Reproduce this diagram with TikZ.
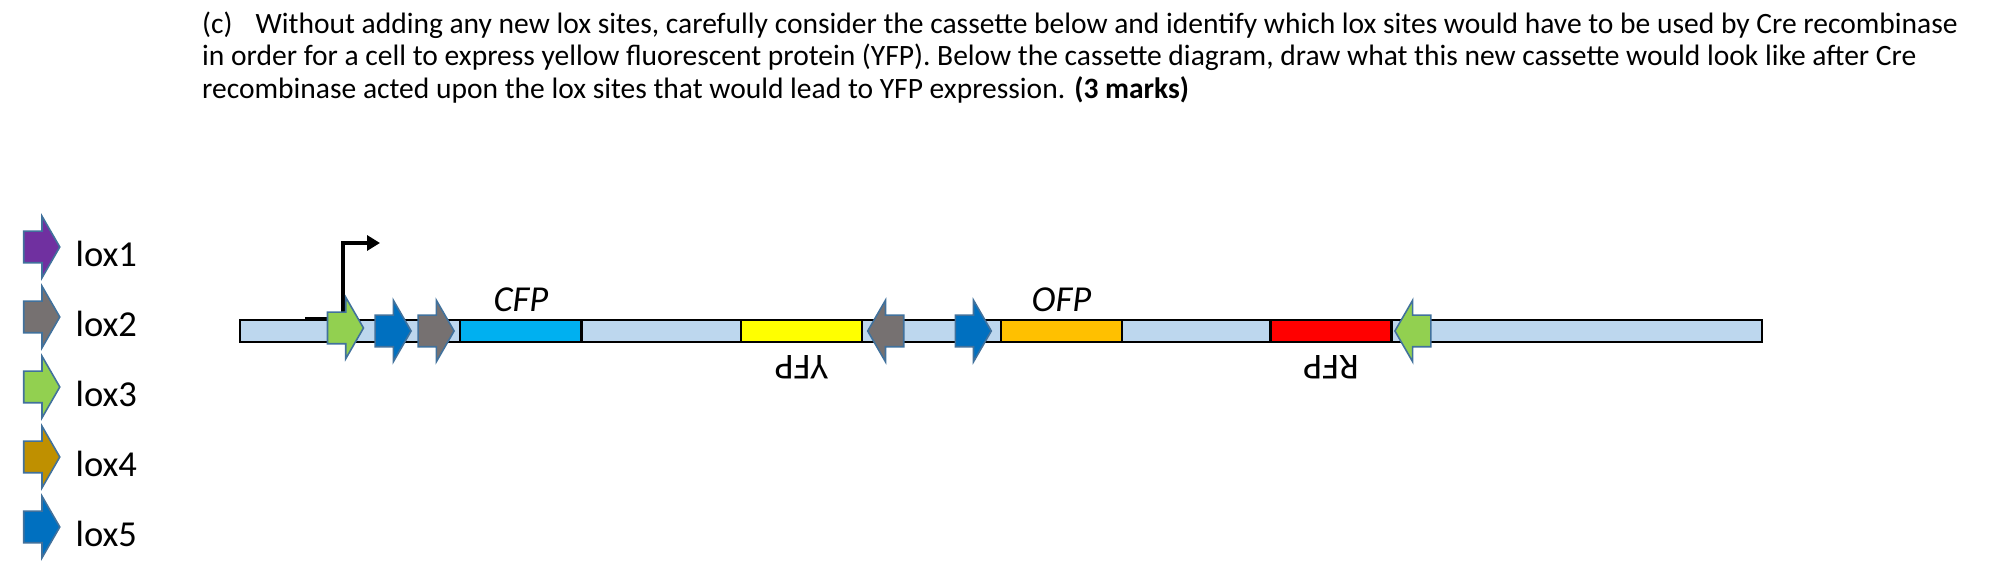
\documentclass[tikz,border=0pt]{standalone}
\usepackage{fontspec}
\setmainfont{Carlito}
\usetikzlibrary{arrows.meta,shapes.arrows}
\definecolor{bb}{HTML}{BDD7EE}
\definecolor{cfpc}{HTML}{00B0F0}
\definecolor{yfpc}{HTML}{FFFF00}
\definecolor{ofpc}{HTML}{FFC000}
\definecolor{rfpc}{HTML}{FF0000}
\definecolor{lox1c}{HTML}{7030A0}
\definecolor{lox2c}{HTML}{767171}
\definecolor{lox3c}{HTML}{92D050}
\definecolor{lox4c}{HTML}{BF9000}
\definecolor{lox5c}{HTML}{0070C0}
\definecolor{loxedge}{HTML}{41719C}
\tikzset{seg/.style={draw=black,line width=0.6pt,inner sep=0pt,minimum height=2.2mm},
 lox/.style={single arrow,draw=loxedge,line width=0.45pt,inner xsep=0pt,inner ysep=1.5mm,minimum width=6mm,minimum height=3.6mm,single arrow head extend=1.5mm,single arrow tip angle=120,anchor=tail},
 rev/.style={shape border rotate=180},
 lbl/.style={inner sep=0pt,font=\fontsize{10.4}{12.5}\selectfont},
 q/.style={anchor=base west,inner sep=0pt,font=\fontsize{8.4}{10}\selectfont},
 prom/.style={line width=1.1pt,-{Triangle[length=1.3mm,width=1.5mm]}}}
\begin{document}
\begin{tikzpicture}
\useasboundingbox (0,0) rectangle (19.96,5.80);
% question text
\node[q] (q1) at (2.015,5.467) {(c)\hspace{2.3mm}Without adding any new lox sites, carefully consider the cassette below and identify which lox sites would have to be used by Cre recombinase};
\node[q] (q2) at (2.015,5.142) {in order for a cell to express yellow fluorescent protein (YFP). Below the cassette diagram, draw what this new cassette would look like after Cre};
\node[q] (q3) at (2.015,4.817) {recombinase acted upon the lox sites that would lead to YFP expression. \textbf{(3 marks)}};
% legend
\foreach \i/\c/\y in {1/lox1c/3.33,2/lox2c/2.63,3/lox3c/1.93,4/lox4c/1.23,5/lox5c/0.53}
 {\node[lox,fill=\c] (k\i) at (0.23,\y) {};
  \node[lbl,anchor=base west] (t\i) at (0.75,\y-0.20) {lox\i};}
% cassette
\node[seg,fill=bb,minimum width=152.2mm] (dna) at (10.01,2.49) {};
\node[seg,fill=cfpc,minimum width=12.15mm] (cfp) at (5.2075,2.49) {};
\node[seg,fill=yfpc,minimum width=12.1mm] (yfp) at (8.015,2.49) {};
\node[seg,fill=ofpc,minimum width=12.1mm] (ofp) at (10.615,2.49) {};
\node[seg,fill=rfpc,minimum width=12.1mm] (rfp) at (13.31,2.49) {};
% promoter
\coordinate (p0) at (3.05,2.61);
\coordinate (tss) at (3.80,3.37);
\draw[prom] (p0) -- (3.43,2.61) |- (tss);
% lox sites
\node[lox,fill=lox3c] (s1) at (3.267,2.52) {};
\node[lox,fill=lox5c] (s2) at (3.743,2.49) {};
\node[lox,fill=lox2c] (s3) at (4.173,2.49) {};
\node[lox,rev,fill=lox2c] (s4) at (9.045,2.49) {};
\node[lox,fill=lox5c] (s5) at (9.545,2.49) {};
\node[lox,rev,fill=lox3c] (s6) at (14.317,2.49) {};
% gene names
\node[lbl] (cfpl) at (5.21,2.80) {\textit{CFP}};
\node[lbl] (ofpl) at (10.615,2.80) {\textit{OFP}};
\node[lbl,rotate=180] (yfpl) at (8.015,2.13) {YFP};
\node[lbl,rotate=180] (rfpl) at (13.31,2.13) {RFP};
\end{tikzpicture}
\end{document}
